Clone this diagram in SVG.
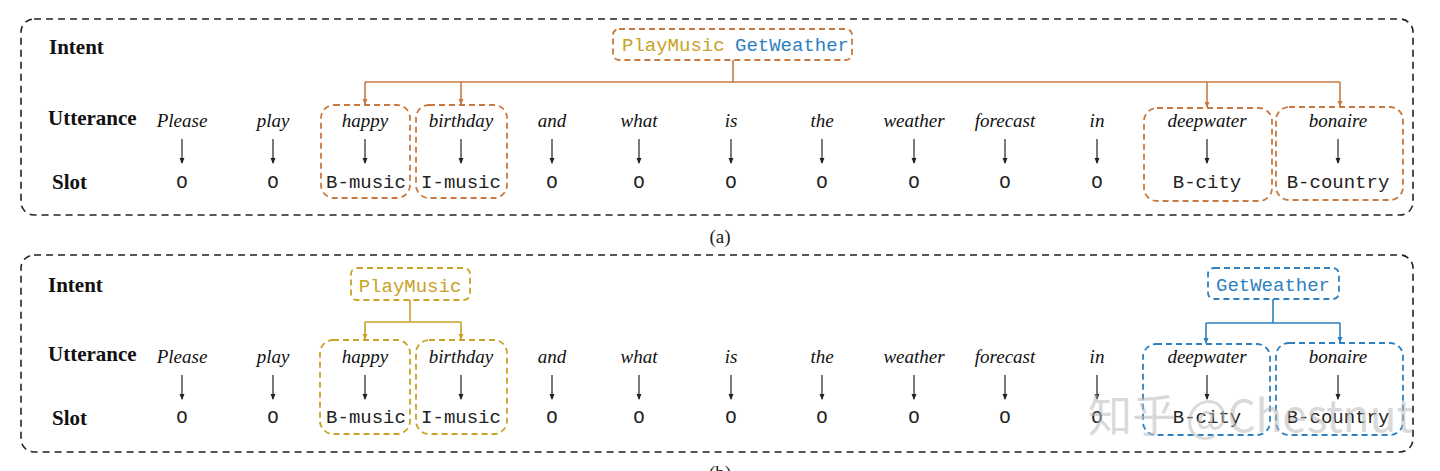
<svg xmlns="http://www.w3.org/2000/svg" width="1440" height="471" viewBox="0 0 1440 471">
<defs>
<style>
.bg{fill:#fff}
.frame{fill:none;stroke:#222;stroke-width:1.6;stroke-dasharray:7 5}
.lab{font-family:"Liberation Serif","Times New Roman",serif;font-weight:bold;font-size:21px;fill:#111}
.w{font-family:"Liberation Serif","Times New Roman",serif;font-style:italic;font-size:19px;fill:#111;text-anchor:middle}
.s{font-family:"Liberation Mono","Courier New",monospace;font-size:19px;fill:#222;text-anchor:middle}
.cap{font-family:"Liberation Serif","Times New Roman",serif;font-size:19px;fill:#222;text-anchor:middle}
.arr{stroke:#222;stroke-width:1.2;fill:none;marker-end:url(#ak)}
.bo{fill:none;stroke:#c87941;stroke-width:1.8;stroke-dasharray:6 4}
.bg2{fill:none;stroke:#c9a227;stroke-width:1.8;stroke-dasharray:6 4}
.bb{fill:none;stroke:#2f80c0;stroke-width:1.8;stroke-dasharray:6 4}
.co{fill:none;stroke:#c87941;stroke-width:1.6}
.cg{fill:none;stroke:#c9a227;stroke-width:1.6}
.cb{fill:none;stroke:#2f80c0;stroke-width:1.6}
.gold{fill:#c9a227}
.blue{fill:#2f80c0}
.wm{font-family:"Noto Sans CJK SC","Liberation Sans",sans-serif;font-size:44px;fill:#bbb;opacity:0.55}
</style>
<marker id="ak" viewBox="0 0 6 6" refX="5" refY="3" markerWidth="6" markerHeight="6" orient="auto" markerUnits="userSpaceOnUse"><path d="M0,0.5 L6,3 L0,5.5 z" fill="#222"/></marker>
<marker id="ao" viewBox="0 0 6 6" refX="5" refY="3" markerWidth="6" markerHeight="6" orient="auto" markerUnits="userSpaceOnUse"><path d="M0,0.5 L6,3 L0,5.5 z" fill="#c87941"/></marker>
<marker id="ag" viewBox="0 0 6 6" refX="5" refY="3" markerWidth="6" markerHeight="6" orient="auto" markerUnits="userSpaceOnUse"><path d="M0,0.5 L6,3 L0,5.5 z" fill="#c9a227"/></marker>
<marker id="ab" viewBox="0 0 6 6" refX="5" refY="3" markerWidth="6" markerHeight="6" orient="auto" markerUnits="userSpaceOnUse"><path d="M0,0.5 L6,3 L0,5.5 z" fill="#2f80c0"/></marker>
</defs>
<rect class="bg" x="0" y="0" width="1440" height="471"/>

<g id="panel-a">
<rect class="frame" x="21" y="19" width="1392" height="196" rx="13"/>
<text class="lab" x="49" y="54">Intent</text>
<text class="lab" x="48" y="125">Utterance</text>
<text class="lab" x="52" y="189">Slot</text>
<text class="cap" x="720" y="243">(a)</text>
</g>

<g id="a-intent">
<rect class="bo" x="613" y="29" width="239" height="31" rx="6"/>
<text x="622" y="51" font-family="Liberation Mono, Courier New, monospace" font-size="19"><tspan class="gold">PlayMusic</tspan><tspan class="blue" x="735">GetWeather</tspan></text>
</g>

<g id="a-boxes">
<rect class="bo" x="321" y="105" width="89" height="93" rx="13"/>
<rect class="bo" x="416" y="105" width="91" height="93" rx="13"/>
<rect class="bo" x="1144" y="108" width="128" height="93" rx="13"/>
<rect class="bo" x="1276" y="107" width="127" height="93" rx="13"/>
</g>

<g id="a-tokens">
<text class="w" x="182" y="127">Please</text>
<text class="w" x="273" y="127">play</text>
<text class="w" x="365" y="127">happy</text>
<text class="w" x="461" y="127">birthday</text>
<text class="w" x="552" y="127">and</text>
<text class="w" x="639" y="127">what</text>
<text class="w" x="731" y="127">is</text>
<text class="w" x="822" y="127">the</text>
<text class="w" x="914" y="127">weather</text>
<text class="w" x="1005" y="127">forecast</text>
<text class="w" x="1097" y="127">in</text>
<text class="w" x="1207" y="127">deepwater</text>
<text class="w" x="1338" y="127">bonaire</text>
<text class="s" x="182" y="188">O</text>
<text class="s" x="273" y="188">O</text>
<text class="s" x="366" y="188">B-music</text>
<text class="s" x="461" y="188">I-music</text>
<text class="s" x="552" y="188">O</text>
<text class="s" x="639" y="188">O</text>
<text class="s" x="731" y="188">O</text>
<text class="s" x="822" y="188">O</text>
<text class="s" x="914" y="188">O</text>
<text class="s" x="1005" y="188">O</text>
<text class="s" x="1097" y="188">O</text>
<text class="s" x="1207" y="188">B-city</text>
<text class="s" x="1338" y="188">B-country</text>
</g>

<g id="panel-b">
<rect class="frame" x="21" y="255" width="1392" height="197" rx="13"/>
<text class="lab" x="48" y="292">Intent</text>
<text class="lab" x="48" y="361">Utterance</text>
<text class="lab" x="52" y="425">Slot</text>
<text class="cap" x="720" y="479">(b)</text>
</g>

<g id="b-intent-play">
<rect class="bg2" x="351" y="268" width="119" height="32" rx="6"/>
<text class="s" x="410" y="292" style="fill:#c9a227">PlayMusic</text>
</g>
<g id="b-intent-weather">
<rect class="bb" x="1208" y="268" width="131" height="31" rx="6"/>
<text class="s" x="1273" y="291" style="fill:#2f80c0">GetWeather</text>
</g>

<g id="b-boxes">
<rect class="bg2" x="320" y="340" width="90" height="94" rx="13"/>
<rect class="bg2" x="416" y="340" width="91" height="94" rx="13"/>
<rect class="bb" x="1143" y="344" width="127" height="91" rx="13"/>
<rect class="bb" x="1276" y="343" width="127" height="92" rx="13"/>
</g>

<g id="b-tokens">
<text class="w" x="182" y="363">Please</text>
<text class="w" x="273" y="363">play</text>
<text class="w" x="365" y="363">happy</text>
<text class="w" x="461" y="363">birthday</text>
<text class="w" x="552" y="363">and</text>
<text class="w" x="639" y="363">what</text>
<text class="w" x="731" y="363">is</text>
<text class="w" x="822" y="363">the</text>
<text class="w" x="914" y="363">weather</text>
<text class="w" x="1005" y="363">forecast</text>
<text class="w" x="1097" y="363">in</text>
<text class="w" x="1207" y="363">deepwater</text>
<text class="w" x="1338" y="363">bonaire</text>
<text class="s" x="182" y="423">O</text>
<text class="s" x="273" y="423">O</text>
<text class="s" x="366" y="423">B-music</text>
<text class="s" x="461" y="423">I-music</text>
<text class="s" x="552" y="423">O</text>
<text class="s" x="639" y="423">O</text>
<text class="s" x="731" y="423">O</text>
<text class="s" x="822" y="423">O</text>
<text class="s" x="914" y="423">O</text>
<text class="s" x="1005" y="423">O</text>
<text class="s" x="1097" y="423">O</text>
<text class="s" x="1207" y="423">B-city</text>
<text class="s" x="1338" y="423">B-country</text>
</g>

<g id="connectors">
<path class="co" d="M733,60 V82 M365,82 H1340"/>
<path class="co" d="M365,82 V104" marker-end="url(#ao)"/>
<path class="co" d="M461,82 V104" marker-end="url(#ao)"/>
<path class="co" d="M1207,82 V107" marker-end="url(#ao)"/>
<path class="co" d="M1340,82 V106" marker-end="url(#ao)"/>
<path class="cg" d="M410,300 V322 M365,322 H461"/>
<path class="cg" d="M365,322 V339" marker-end="url(#ag)"/>
<path class="cg" d="M461,322 V339" marker-end="url(#ag)"/>
<path class="cb" d="M1273,299 V323 M1206,323 H1340"/>
<path class="cb" d="M1206,323 V343" marker-end="url(#ab)"/>
<path class="cb" d="M1340,323 V342" marker-end="url(#ab)"/>
<path class="arr" d="M182,139 V163"/>
<path class="arr" d="M273,139 V163"/>
<path class="arr" d="M365,139 V163"/>
<path class="arr" d="M461,139 V163"/>
<path class="arr" d="M552,139 V163"/>
<path class="arr" d="M639,139 V163"/>
<path class="arr" d="M731,139 V163"/>
<path class="arr" d="M822,139 V163"/>
<path class="arr" d="M914,139 V163"/>
<path class="arr" d="M1005,139 V163"/>
<path class="arr" d="M1097,139 V163"/>
<path class="arr" d="M1207,139 V163"/>
<path class="arr" d="M1338,139 V163"/>
<path class="arr" d="M182,375 V399"/>
<path class="arr" d="M273,375 V399"/>
<path class="arr" d="M365,375 V399"/>
<path class="arr" d="M461,375 V399"/>
<path class="arr" d="M552,375 V399"/>
<path class="arr" d="M639,375 V399"/>
<path class="arr" d="M731,375 V399"/>
<path class="arr" d="M822,375 V399"/>
<path class="arr" d="M914,375 V399"/>
<path class="arr" d="M1005,375 V399"/>
<path class="arr" d="M1097,375 V399"/>
<path class="arr" d="M1207,375 V399"/>
<path class="arr" d="M1338,375 V399"/>
</g>

<text class="wm" x="1088" y="432">知乎 @Chestnut</text>
</svg>
